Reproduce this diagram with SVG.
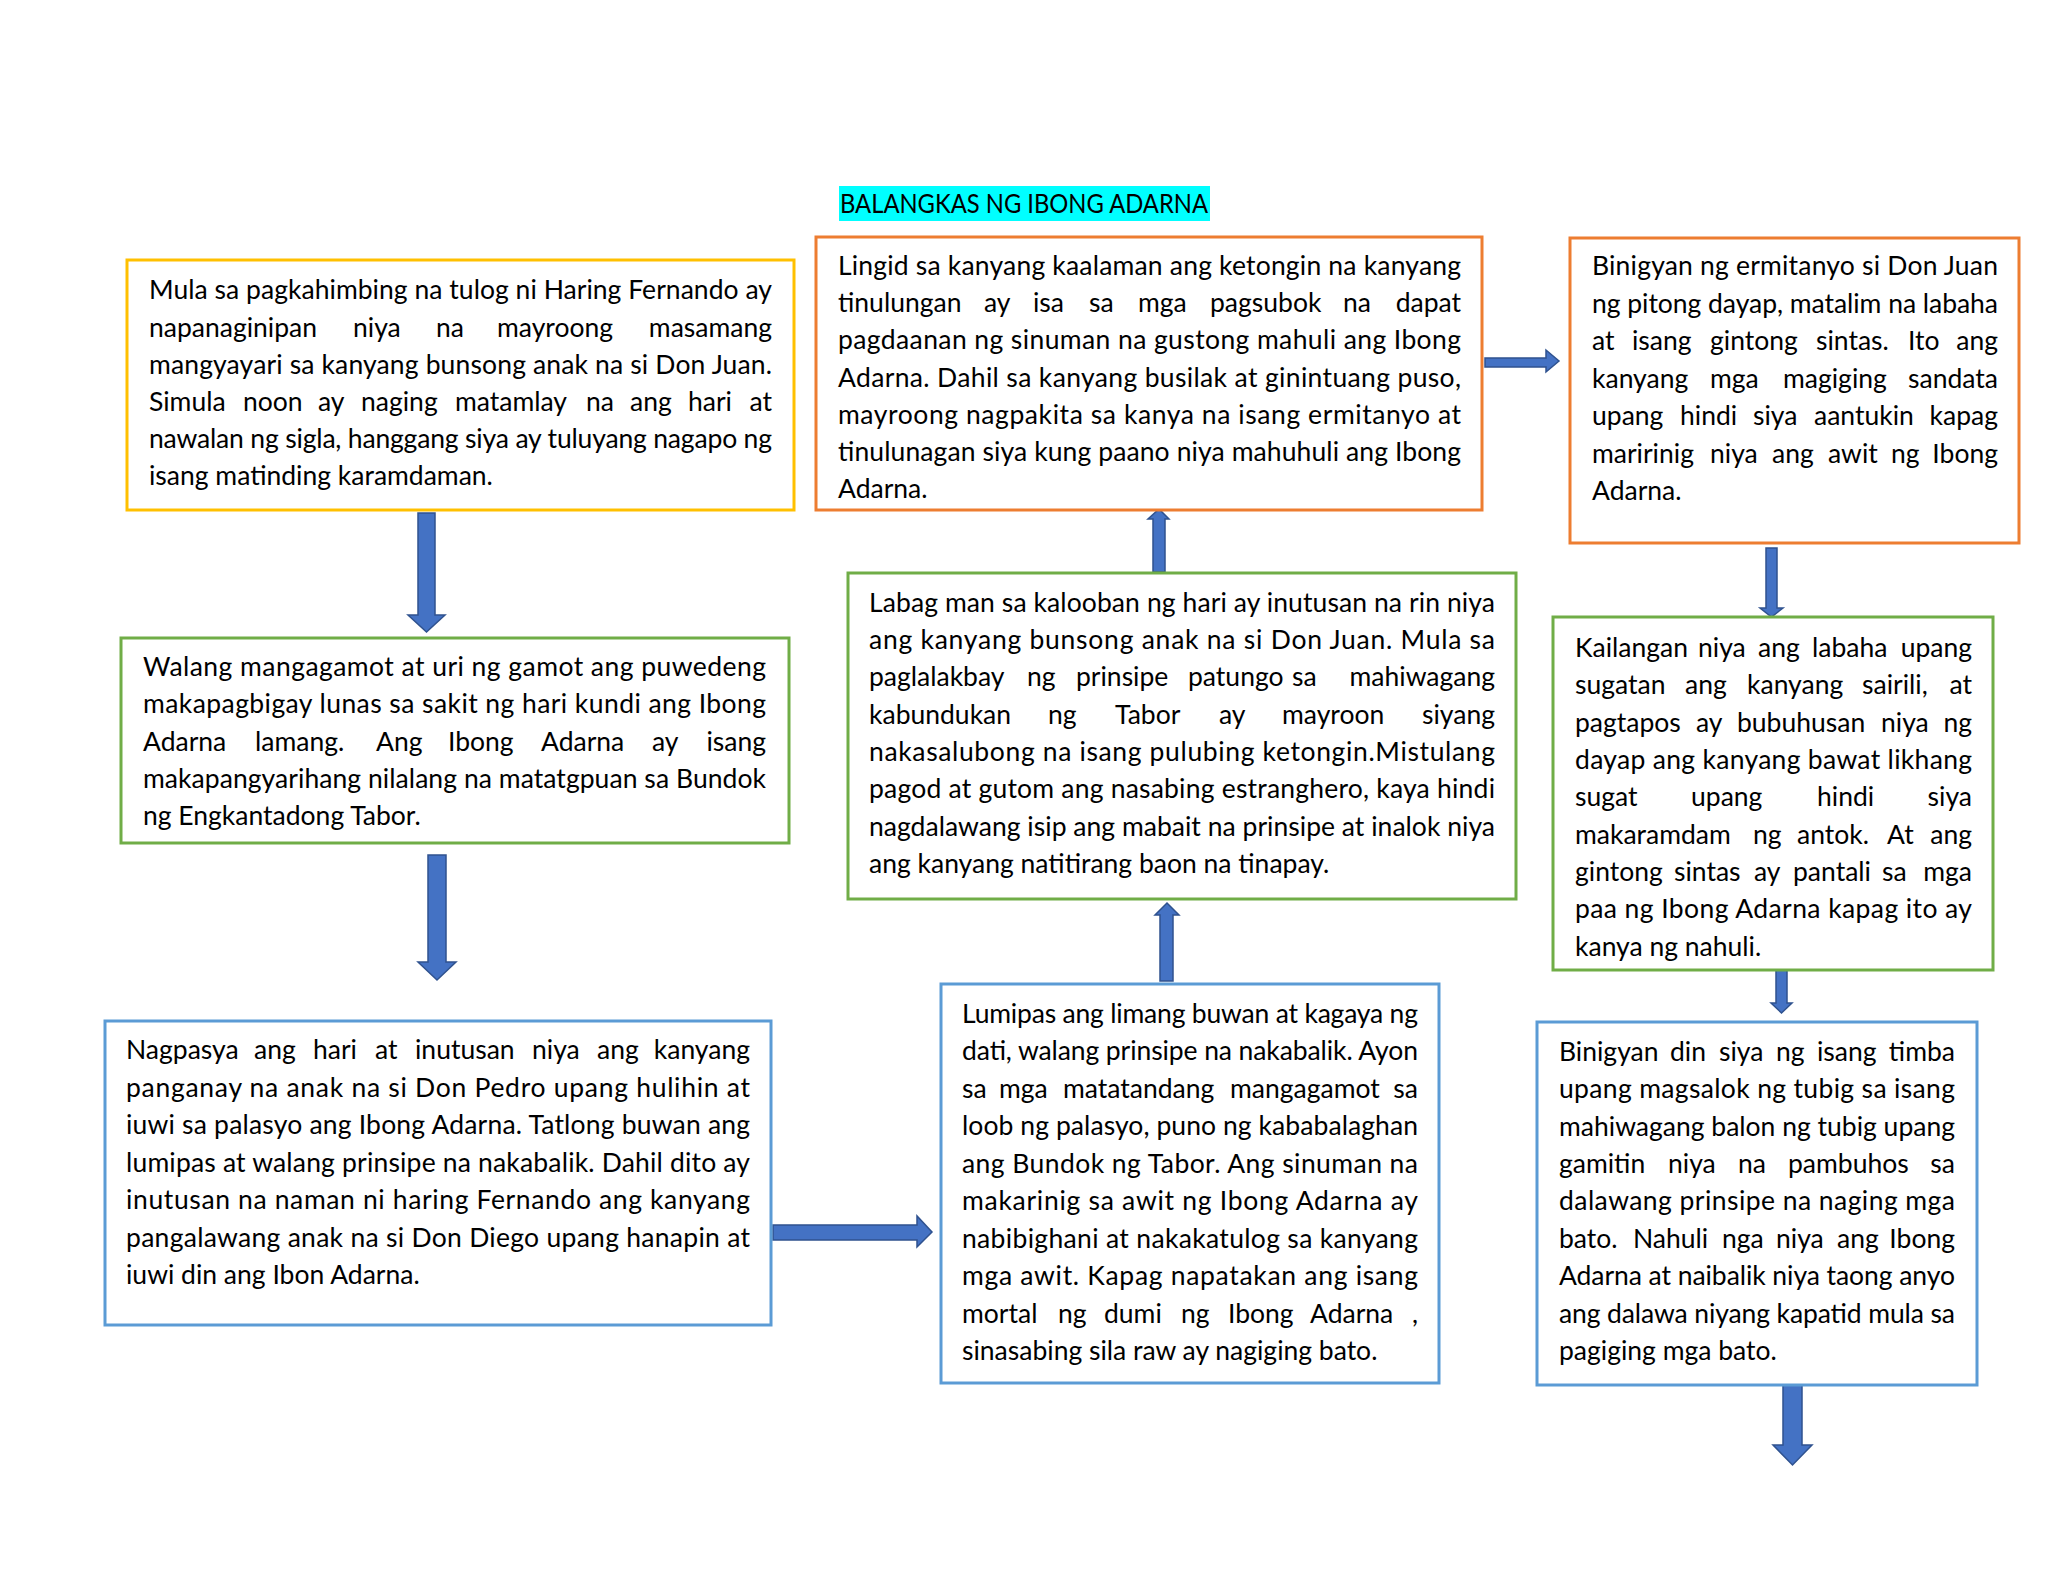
<svg xmlns="http://www.w3.org/2000/svg" width="2048" height="1582" viewBox="0 0 2048 1582">
<style>
.t{font-family:Lato,"Liberation Sans",sans-serif;font-size:26.5px;fill:#000}
.box{fill:#fff;stroke-width:3}
.y{stroke:#FFC000}.o{stroke:#ED7D31}.g{stroke:#70AD47}.b{stroke:#5B9BD5}
.arr{fill:#4472C4;stroke:#2F528F;stroke-width:1.5;stroke-linejoin:miter}
</style>
<rect width="2048" height="1582" fill="#fff"/>
<g id="title">
<rect x="839" y="186" width="371" height="35" fill="#00FFFF"/>
<text class="t" x="840" y="213" textLength="368" lengthAdjust="spacingAndGlyphs">BALANGKAS NG IBONG ADARNA</text>
</g>
<g id="connectors">
<polygon class="arr" points="418,513 435,513 435,615 445,615 426.5,632 408,615 418,615"/>
<polygon class="arr" points="428,855 446,855 446,962 456,962 437,980 418,962 428,962"/>
<polygon class="arr" points="773,1225 917,1225 917,1216 932,1232 917,1247 917,1240 773,1240"/>
<polygon class="arr" points="1160,981 1173,981 1173,915 1179,915 1167,903 1155,915 1160,915"/>
<polygon class="arr" points="1153,572 1165,572 1165,519 1169,519 1159,509 1148,519 1153,519"/>
<polygon class="arr" points="1485,358 1546,358 1546,350 1559,361 1546,372 1546,367 1485,367"/>
<polygon class="arr" points="1766,548 1777,548 1777,608 1783,608 1771.5,617 1760,608 1766,608"/>
<polygon class="arr" points="1776,970 1787,970 1787,1003 1792,1003 1781.5,1013 1771,1003 1776,1003"/>
<polygon class="arr" points="1783,1385 1802,1385 1802,1445 1812,1445 1792.5,1465 1773,1445 1783,1445"/>
</g>
<g id="node1">
<rect class="box y" x="127" y="260" width="667" height="250"/>
<text class="t" x="149" y="299" textLength="623" lengthAdjust="spacing">Mula sa pagkahimbing na tulog ni Haring Fernando ay</text>
<text class="t" y="337"><tspan x="149">napanaginipan</tspan><tspan x="353">niya</tspan><tspan x="436">na</tspan><tspan x="497">mayroong</tspan></text>
<text class="t" x="772" y="337" text-anchor="end">masamang</text>
<text class="t" x="149" y="374" textLength="623" lengthAdjust="spacing">mangyayari sa kanyang bunsong anak na si Don Juan.</text>
<text class="t" y="411"><tspan x="149">Simula</tspan><tspan x="243">noon</tspan><tspan x="318">ay</tspan><tspan x="361">naging</tspan><tspan x="455">matamlay</tspan><tspan x="586">na</tspan><tspan x="630">ang</tspan><tspan x="688">hari</tspan></text>
<text class="t" x="772" y="411" text-anchor="end">at</text>
<text class="t" x="149" y="448" textLength="623" lengthAdjust="spacing">nawalan ng sigla, hanggang siya ay tuluyang nagapo ng</text>
<text class="t" x="149" y="485">isang matinding karamdaman.</text>
</g>
<g id="node2">
<rect class="box o" x="816" y="237" width="666" height="273"/>
<text class="t" x="838" y="275" textLength="623" lengthAdjust="spacing">Lingid sa kanyang kaalaman ang ketongin na kanyang</text>
<text class="t" y="312"><tspan x="838">tinulungan</tspan><tspan x="984">ay</tspan><tspan x="1033">isa</tspan><tspan x="1089">sa</tspan><tspan x="1138">mga</tspan><tspan x="1210">pagsubok</tspan><tspan x="1343">na</tspan></text>
<text class="t" x="1461" y="312" text-anchor="end">dapat</text>
<text class="t" x="838" y="349" textLength="623" lengthAdjust="spacing">pagdaanan ng sinuman na gustong mahuli ang Ibong</text>
<text class="t" x="838" y="387" textLength="623" lengthAdjust="spacing">Adarna. Dahil sa kanyang busilak at ginintuang puso,</text>
<text class="t" x="838" y="424" textLength="623" lengthAdjust="spacing">mayroong nagpakita sa kanya na isang ermitanyo at</text>
<text class="t" x="838" y="461" textLength="623" lengthAdjust="spacing">tinulunagan siya kung paano niya mahuhuli ang Ibong</text>
<text class="t" x="838" y="498">Adarna.</text>
</g>
<g id="node3">
<rect class="box o" x="1570" y="238" width="449" height="305"/>
<text class="t" x="1592" y="275" textLength="406" lengthAdjust="spacing">Binigyan ng ermitanyo si Don Juan</text>
<text class="t" x="1592" y="313" textLength="406" lengthAdjust="spacing">ng pitong dayap, matalim na labaha</text>
<text class="t" y="350"><tspan x="1592">at</tspan><tspan x="1632">isang</tspan><tspan x="1710">gintong</tspan><tspan x="1816">sintas.</tspan><tspan x="1908">Ito</tspan></text>
<text class="t" x="1998" y="350" text-anchor="end">ang</text>
<text class="t" y="388"><tspan x="1592">kanyang</tspan><tspan x="1710">mga</tspan><tspan x="1783">magiging</tspan></text>
<text class="t" x="1998" y="388" text-anchor="end">sandata</text>
<text class="t" y="425"><tspan x="1592">upang</tspan><tspan x="1680">hindi</tspan><tspan x="1753">siya</tspan><tspan x="1814">aantukin</tspan></text>
<text class="t" x="1998" y="425" text-anchor="end">kapag</text>
<text class="t" y="463"><tspan x="1592">maririnig</tspan><tspan x="1710">niya</tspan><tspan x="1772">ang</tspan><tspan x="1828">awit</tspan><tspan x="1891">ng</tspan></text>
<text class="t" x="1998" y="463" text-anchor="end">Ibong</text>
<text class="t" x="1592" y="500">Adarna.</text>
</g>
<g id="node4">
<rect class="box g" x="121" y="638" width="668" height="205"/>
<text class="t" x="143" y="676" textLength="623" lengthAdjust="spacing">Walang mangagamot at uri ng gamot ang puwedeng</text>
<text class="t" x="143" y="713" textLength="623" lengthAdjust="spacing">makapagbigay lunas sa sakit ng hari kundi ang Ibong</text>
<text class="t" y="751"><tspan x="143">Adarna</tspan><tspan x="255">lamang.</tspan><tspan x="376">Ang</tspan><tspan x="448">Ibong</tspan><tspan x="541">Adarna</tspan><tspan x="652">ay</tspan></text>
<text class="t" x="766" y="751" text-anchor="end">isang</text>
<text class="t" x="143" y="788" textLength="623" lengthAdjust="spacing">makapangyarihang nilalang na matatgpuan sa Bundok</text>
<text class="t" x="143" y="825">ng Engkantadong Tabor.</text>
</g>
<g id="node5">
<rect class="box g" x="848" y="573" width="668" height="326"/>
<text class="t" x="869" y="612" textLength="626" lengthAdjust="spacing">Labag man sa kalooban ng hari ay inutusan na rin niya</text>
<text class="t" x="869" y="649" textLength="626" lengthAdjust="spacing">ang kanyang bunsong anak na si Don Juan. Mula sa</text>
<text class="t" y="686"><tspan x="869">paglalakbay</tspan><tspan x="1027">ng</tspan><tspan x="1076">prinsipe</tspan><tspan x="1188">patungo</tspan><tspan x="1292">sa</tspan></text>
<text class="t" x="1495" y="686" text-anchor="end">mahiwagang</text>
<text class="t" y="724"><tspan x="869">kabundukan</tspan><tspan x="1048">ng</tspan><tspan x="1115">Tabor</tspan><tspan x="1219">ay</tspan><tspan x="1282">mayroon</tspan></text>
<text class="t" x="1495" y="724" text-anchor="end">siyang</text>
<text class="t" x="869" y="761" textLength="626" lengthAdjust="spacing">nakasalubong na isang pulubing ketongin.Mistulang</text>
<text class="t" x="869" y="798" textLength="626" lengthAdjust="spacing">pagod at gutom ang nasabing estranghero, kaya hindi</text>
<text class="t" x="869" y="836" textLength="626" lengthAdjust="spacing">nagdalawang isip ang mabait na prinsipe at inalok niya</text>
<text class="t" x="869" y="873">ang kanyang natitirang baon na tinapay.</text>
</g>
<g id="node6">
<rect class="box g" x="1553" y="617" width="440" height="353"/>
<text class="t" y="657"><tspan x="1575">Kailangan</tspan><tspan x="1698">niya</tspan><tspan x="1758">ang</tspan><tspan x="1812">labaha</tspan></text>
<text class="t" x="1972" y="657" text-anchor="end">upang</text>
<text class="t" y="694"><tspan x="1575">sugatan</tspan><tspan x="1685">ang</tspan><tspan x="1747">kanyang</tspan><tspan x="1862">sairili,</tspan></text>
<text class="t" x="1972" y="694" text-anchor="end">at</text>
<text class="t" y="732"><tspan x="1575">pagtapos</tspan><tspan x="1696">ay</tspan><tspan x="1737">bubuhusan</tspan><tspan x="1881">niya</tspan></text>
<text class="t" x="1972" y="732" text-anchor="end">ng</text>
<text class="t" x="1575" y="769" textLength="397" lengthAdjust="spacing">dayap ang kanyang bawat likhang</text>
<text class="t" y="806"><tspan x="1575">sugat</tspan><tspan x="1691">upang</tspan><tspan x="1817">hindi</tspan></text>
<text class="t" x="1972" y="806" text-anchor="end">siya</text>
<text class="t" y="844"><tspan x="1575">makaramdam</tspan><tspan x="1753">ng</tspan><tspan x="1797">antok.</tspan><tspan x="1887">At</tspan></text>
<text class="t" x="1972" y="844" text-anchor="end">ang</text>
<text class="t" y="881"><tspan x="1575">gintong</tspan><tspan x="1674">sintas</tspan><tspan x="1754">ay</tspan><tspan x="1793">pantali</tspan><tspan x="1882">sa</tspan></text>
<text class="t" x="1972" y="881" text-anchor="end">mga</text>
<text class="t" x="1575" y="918" textLength="397" lengthAdjust="spacing">paa ng Ibong Adarna kapag ito ay</text>
<text class="t" x="1575" y="956">kanya ng nahuli.</text>
</g>
<g id="node7">
<rect class="box b" x="105" y="1021" width="666" height="304"/>
<text class="t" y="1059"><tspan x="126">Nagpasya</tspan><tspan x="254">ang</tspan><tspan x="313">hari</tspan><tspan x="375">at</tspan><tspan x="415">inutusan</tspan><tspan x="532">niya</tspan><tspan x="597">ang</tspan></text>
<text class="t" x="750" y="1059" text-anchor="end">kanyang</text>
<text class="t" x="126" y="1097" textLength="624" lengthAdjust="spacing">panganay na anak na si Don Pedro upang hulihin at</text>
<text class="t" x="126" y="1134" textLength="624" lengthAdjust="spacing">iuwi sa palasyo ang Ibong Adarna. Tatlong buwan ang</text>
<text class="t" x="126" y="1172" textLength="624" lengthAdjust="spacing">lumipas at walang prinsipe na nakabalik. Dahil dito ay</text>
<text class="t" x="126" y="1209" textLength="624" lengthAdjust="spacing">inutusan na naman ni haring Fernando ang kanyang</text>
<text class="t" x="126" y="1247" textLength="624" lengthAdjust="spacing">pangalawang anak na si Don Diego upang hanapin at</text>
<text class="t" x="126" y="1284">iuwi din ang Ibon Adarna.</text>
</g>
<g id="node8">
<rect class="box b" x="941" y="984" width="498" height="399"/>
<text class="t" x="962" y="1023" textLength="456" lengthAdjust="spacing">Lumipas ang limang buwan at kagaya ng</text>
<text class="t" x="962" y="1060" textLength="456" lengthAdjust="spacing">dati, walang prinsipe na nakabalik. Ayon</text>
<text class="t" y="1098"><tspan x="962">sa</tspan><tspan x="999">mga</tspan><tspan x="1063">matatandang</tspan><tspan x="1230">mangagamot</tspan></text>
<text class="t" x="1418" y="1098" text-anchor="end">sa</text>
<text class="t" x="962" y="1135" textLength="456" lengthAdjust="spacing">loob ng palasyo, puno ng kababalaghan</text>
<text class="t" x="962" y="1173" textLength="456" lengthAdjust="spacing">ang Bundok ng Tabor. Ang sinuman na</text>
<text class="t" x="962" y="1210" textLength="456" lengthAdjust="spacing">makarinig sa awit ng Ibong Adarna ay</text>
<text class="t" x="962" y="1248" textLength="456" lengthAdjust="spacing">nabibighani at nakakatulog sa kanyang</text>
<text class="t" x="962" y="1285" textLength="456" lengthAdjust="spacing">mga awit. Kapag napatakan ang isang</text>
<text class="t" y="1323"><tspan x="962">mortal</tspan><tspan x="1058">ng</tspan><tspan x="1104">dumi</tspan><tspan x="1181">ng</tspan><tspan x="1228">Ibong</tspan><tspan x="1310">Adarna</tspan></text>
<text class="t" x="1418" y="1323" text-anchor="end">,</text>
<text class="t" x="962" y="1360">sinasabing sila raw ay nagiging bato.</text>
</g>
<g id="node9">
<rect class="box b" x="1537" y="1022" width="440" height="363"/>
<text class="t" y="1061"><tspan x="1559">Binigyan</tspan><tspan x="1670">din</tspan><tspan x="1719">siya</tspan><tspan x="1776">ng</tspan><tspan x="1817">isang</tspan></text>
<text class="t" x="1955" y="1061" text-anchor="end">timba</text>
<text class="t" x="1559" y="1098" textLength="396" lengthAdjust="spacing">upang magsalok ng tubig sa isang</text>
<text class="t" x="1559" y="1136" textLength="396" lengthAdjust="spacing">mahiwagang balon ng tubig upang</text>
<text class="t" y="1173"><tspan x="1559">gamitin</tspan><tspan x="1668">niya</tspan><tspan x="1738">na</tspan><tspan x="1788">pambuhos</tspan></text>
<text class="t" x="1955" y="1173" text-anchor="end">sa</text>
<text class="t" x="1559" y="1210" textLength="396" lengthAdjust="spacing">dalawang prinsipe na naging mga</text>
<text class="t" y="1248"><tspan x="1559">bato.</tspan><tspan x="1633">Nahuli</tspan><tspan x="1722">nga</tspan><tspan x="1776">niya</tspan><tspan x="1837">ang</tspan></text>
<text class="t" x="1955" y="1248" text-anchor="end">Ibong</text>
<text class="t" x="1559" y="1285" textLength="396" lengthAdjust="spacing">Adarna at naibalik niya taong anyo</text>
<text class="t" x="1559" y="1323" textLength="396" lengthAdjust="spacing">ang dalawa niyang kapatid mula sa</text>
<text class="t" x="1559" y="1360">pagiging mga bato.</text>
</g>
</svg>
